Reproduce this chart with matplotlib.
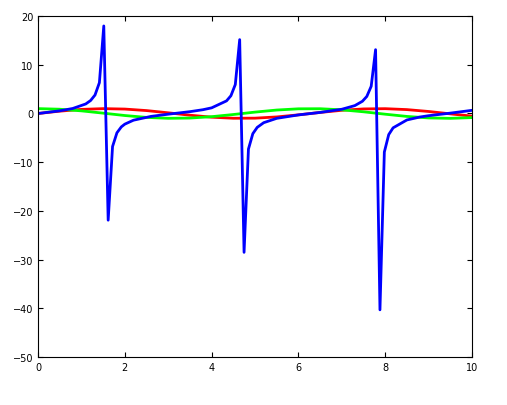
import matplotlib
matplotlib.use("Agg")
import matplotlib.pyplot as plt

x_trig = [0,0.5,1,1.5,2,2.5,3,3.5,4,4.5,5,5.5,6,6.5,7,7.5,8,8.5,9,9.5,10]
sin_v = [0,.479,.841,.997,.909,.598,.141,-.351,-.757,-.978,-.959,-.706,-.279,.215,.657,.938,.989,.798,.412,-.075,-.544]
cos_v = [1,.878,.540,.071,-.416,-.801,-.990,-.936,-.654,-.211,.284,.709,.960,.977,.754,.347,-.146,-.602,-.911,-.997,-.839]

x_tan = [0,0.5,0.8,1.1,1.2121,1.3131,1.4141,1.5152,1.6162,1.7172,1.8182,1.9192,2.0,2.2,2.6,3.0,3.5,3.8,4.0,
         4.3434,4.4444,4.5455,4.6465,4.7475,4.8485,4.9495,5.0505,5.2,5.5,6.0,6.5,7.0,7.3,
         7.4747,7.5758,7.6768,7.7778,7.8788,7.9798,8.0808,8.1818,8.5,8.8,9.0,9.5,10.0]
tan_v = [0,.546,1.03,1.96,2.67,3.79,6.33,17.97,-21.9,-6.78,-3.96,-2.75,-2.185,-1.374,-.602,-.1425,.3746,.776,1.158,
         2.59,3.64,5.94,15.16,-28.5,-7.30,-4.14,-2.85,-1.886,-.996,-.291,.220,.871,1.62,
         2.51,3.50,5.58,13.1,-40.3,-7.91,-4.33,-2.94,-1.325,-.721,-.4523,.0753,.648]

fig = plt.figure(figsize=(5.07, 4.06), dpi=100)
ax = fig.add_axes([0.075, 0.118, 0.856, 0.84])
ax.plot(x_trig, sin_v, color="#ff0000", lw=2)
ax.plot(x_trig, cos_v, color="#00ff00", lw=2)
ax.plot(x_tan, tan_v, color="#0000ff", lw=2)
ax.set_xlim(0, 10)
ax.set_ylim(-50, 20)
ax.set_xticks([0, 2, 4, 6, 8, 10])
ax.set_yticks([-50, -40, -30, -20, -10, 0, 10, 20])
ax.tick_params(direction="in", labelsize=7, top=True, right=True)
fig.savefig("out.png", dpi=100)
